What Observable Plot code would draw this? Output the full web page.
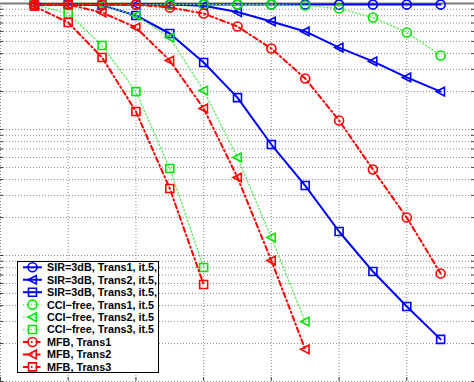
<!DOCTYPE html>
<html><head><meta charset="utf-8">
<script src="https://cdn.jsdelivr.net/npm/d3@7"></script>
<script src="https://cdn.jsdelivr.net/npm/@observablehq/plot@0.6"></script>
<style>
body{margin:0;background:#fff}
#chart{position:relative;width:474px;height:382px;overflow:hidden}
</style>
</head><body><div id="chart"></div>
<script>
// x positions (SNR steps) and axis ticks
const snr = [1, 2, 3, 4, 5, 6, 7, 8, 9, 10, 11, 12, 13];
const xTicks = [0, 2, 4, 6, 8, 10, 12, 14];
const yTicks = [0.001, 0.002, 0.003, 0.004, 0.005, 0.006, 0.007, 0.008, 0.009,
  0.01, 0.02, 0.03, 0.04, 0.05, 0.06, 0.07, 0.08, 0.09,
  0.1, 0.2, 0.3, 0.4, 0.5, 0.6, 0.7, 0.8, 0.9, 1];

// series values (error rate)
const sirTrans1 = [0.98, 0.98, 0.98, 0.98, 0.98, 0.98, 0.98, 0.98, 0.98, 0.98, 0.98, 0.98, 0.98];
const sirTrans2 = [0.98, 0.98, 0.98, 0.98, 0.98, 0.96, 0.855, 0.72, 0.60, 0.447, 0.347, 0.259, 0.200];
const sirTrans3 = [0.98, 0.98, 0.97, 0.803, 0.578, 0.340, 0.179, 0.076, 0.0359, 0.0155, 0.00746, 0.00394, 0.00216];
const cciTrans1 = [0.98, 0.98, 0.98, 0.98, 0.98, 0.98, 0.98, 0.98, 0.964, 0.913, 0.774, 0.589, 0.387];
const cciTrans2 = [0.98, 0.98, 0.98, 0.803, 0.537, 0.204, 0.0600, 0.0139, 0.00299];
const cciTrans3 = [0.98, 0.833, 0.464, 0.200, 0.0490, 0.00803];
const mfbTrans1 = [0.98, 0.98, 0.98, 0.98, 0.930, 0.833, 0.657, 0.439, 0.254, 0.118, 0.0481, 0.0200, 0.0072];
const mfbTrans2 = [0.98, 0.98, 0.848, 0.645, 0.353, 0.147, 0.0416, 0.00912, 0.0018];
const mfbTrans3 = [0.95, 0.707, 0.373, 0.139, 0.0340, 0.00589];

const labels = ["SIR=3dB, Trans1, it.5,", "SIR=3dB, Trans2, it.5,", "SIR=3dB, Trans3, it.5,",
  "CCI\u2212free, Trans1, it.5", "CCI\u2212free, Trans2, it.5", "CCI\u2212free, Trans3, it.5",
  "MFB, Trans1", "MFB, Trans2", "MFB, Trans3"];

const triLeft = {draw(ctx, size) {
  const r = Math.sqrt(size / Math.PI);
  ctx.moveTo(-r * 1.0, 0); ctx.lineTo(r * 0.85, -r * 0.95); ctx.lineTo(r * 0.85, r * 0.95); ctx.closePath();
}};

const BLUE = "#0000ff", GREEN = "#00e600", GREENL = "#55ee55", RED = "#ff0000";
const styles = {
  sir: {stroke: BLUE, line: BLUE, width: 2, dash: null},
  cci: {stroke: GREEN, line: GREENL, width: 1.3, dash: "1.3 2.4"},
  mfb: {stroke: RED, line: RED, width: 2, dash: "5 3 1.5 3"}
};
const series = [
  {label: labels[0], values: sirTrans1, st: styles.sir, symbol: "circle"},
  {label: labels[1], values: sirTrans2, st: styles.sir, symbol: triLeft},
  {label: labels[2], values: sirTrans3, st: styles.sir, symbol: "square"},
  {label: labels[3], values: cciTrans1, st: styles.cci, symbol: "circle"},
  {label: labels[4], values: cciTrans2, st: styles.cci, symbol: triLeft},
  {label: labels[5], values: cciTrans3, st: styles.cci, symbol: "square"},
  {label: labels[6], values: mfbTrans1, st: styles.mfb, symbol: "circle"},
  {label: labels[7], values: mfbTrans2, st: styles.mfb, symbol: triLeft},
  {label: labels[8], values: mfbTrans3, st: styles.mfb, symbol: "square"}
];

const seriesMarks = series.flatMap(s => {
  const rows = s.values.map((v, i) => ({x: snr[i], y: v}));
  return [
    Plot.line(rows, {x: "x", y: "y", stroke: s.st.line, strokeWidth: s.st.width, strokeDasharray: s.st.dash}),
    Plot.dot(rows, {x: "x", y: "y", symbol: () => s.symbol, r: 4.5, stroke: s.st.stroke, strokeWidth: 1.6, fill: "none"})
  ];
});

const plot = Plot.plot({
  width: 474, height: 382,
  marginLeft: 0, marginRight: 0, marginTop: 3, marginBottom: 1,
  x: {domain: [0, 14], axis: null},
  y: {type: "log", domain: [0.001, 1], axis: null},
  symbol: {type: "identity"},
  style: {background: "white"},
  marks: [
    Plot.gridY(yTicks, {stroke: "#8a8a8a", strokeOpacity: 1, strokeDasharray: "1 2"}),
    Plot.gridX(xTicks, {stroke: "#8a8a8a", strokeOpacity: 1, strokeDasharray: "1 2"}),
    Plot.axisY(yTicks, {anchor: "left", tickSize: 3, dx: 3, fill: "none", label: null, stroke: "#444"}),
    Plot.axisY(yTicks, {anchor: "right", tickSize: 4, dx: -4, fill: "none", label: null, stroke: "#444"}),
    Plot.axisX(xTicks, {anchor: "bottom", tickSize: 4, dy: -4, fill: "none", label: null, stroke: "#444"}),
    Plot.frame({anchor: "top", stroke: "#7a7a7a", strokeWidth: 2}),
    ...seriesMarks
  ]
});
document.getElementById("chart").append(plot);

// legend box (inside the axes, bottom-left)
const svg = d3.select(plot);
const lg = svg.append("g").attr("text-anchor", "start");
lg.append("rect").attr("x", 17.5).attr("y", 261.5).attr("width", 141).attr("height", 111)
  .attr("fill", "white").attr("stroke", "#000").attr("stroke-width", 1);
series.forEach((s, i) => {
  const y = 267.3 + i * 12.45;
  lg.append("line").attr("x1", 23).attr("x2", 42).attr("y1", y).attr("y2", y)
    .attr("stroke", s.st.line).attr("stroke-width", s.st.width)
    .attr("stroke-dasharray", s.st.dash);
  const sym = typeof s.symbol === "string" ? (s.symbol === "circle" ? d3.symbolCircle : d3.symbolSquare) : s.symbol;
  lg.append("path").attr("d", d3.symbol(sym, 4.5 * 4.5 * Math.PI)()).attr("transform", `translate(32.5,${y})`)
    .attr("fill", "none").attr("stroke", s.st.stroke).attr("stroke-width", 1.6);
  lg.append("text").attr("x", 47).attr("y", y).attr("dy", "0.36em").attr("text-anchor", "start")
    .attr("font-family", "'Liberation Sans', Arial, sans-serif").attr("font-weight", "bold")
    .attr("font-size", 10.8).attr("fill", "#000").text(s.label);
});
</script>
</body></html>
